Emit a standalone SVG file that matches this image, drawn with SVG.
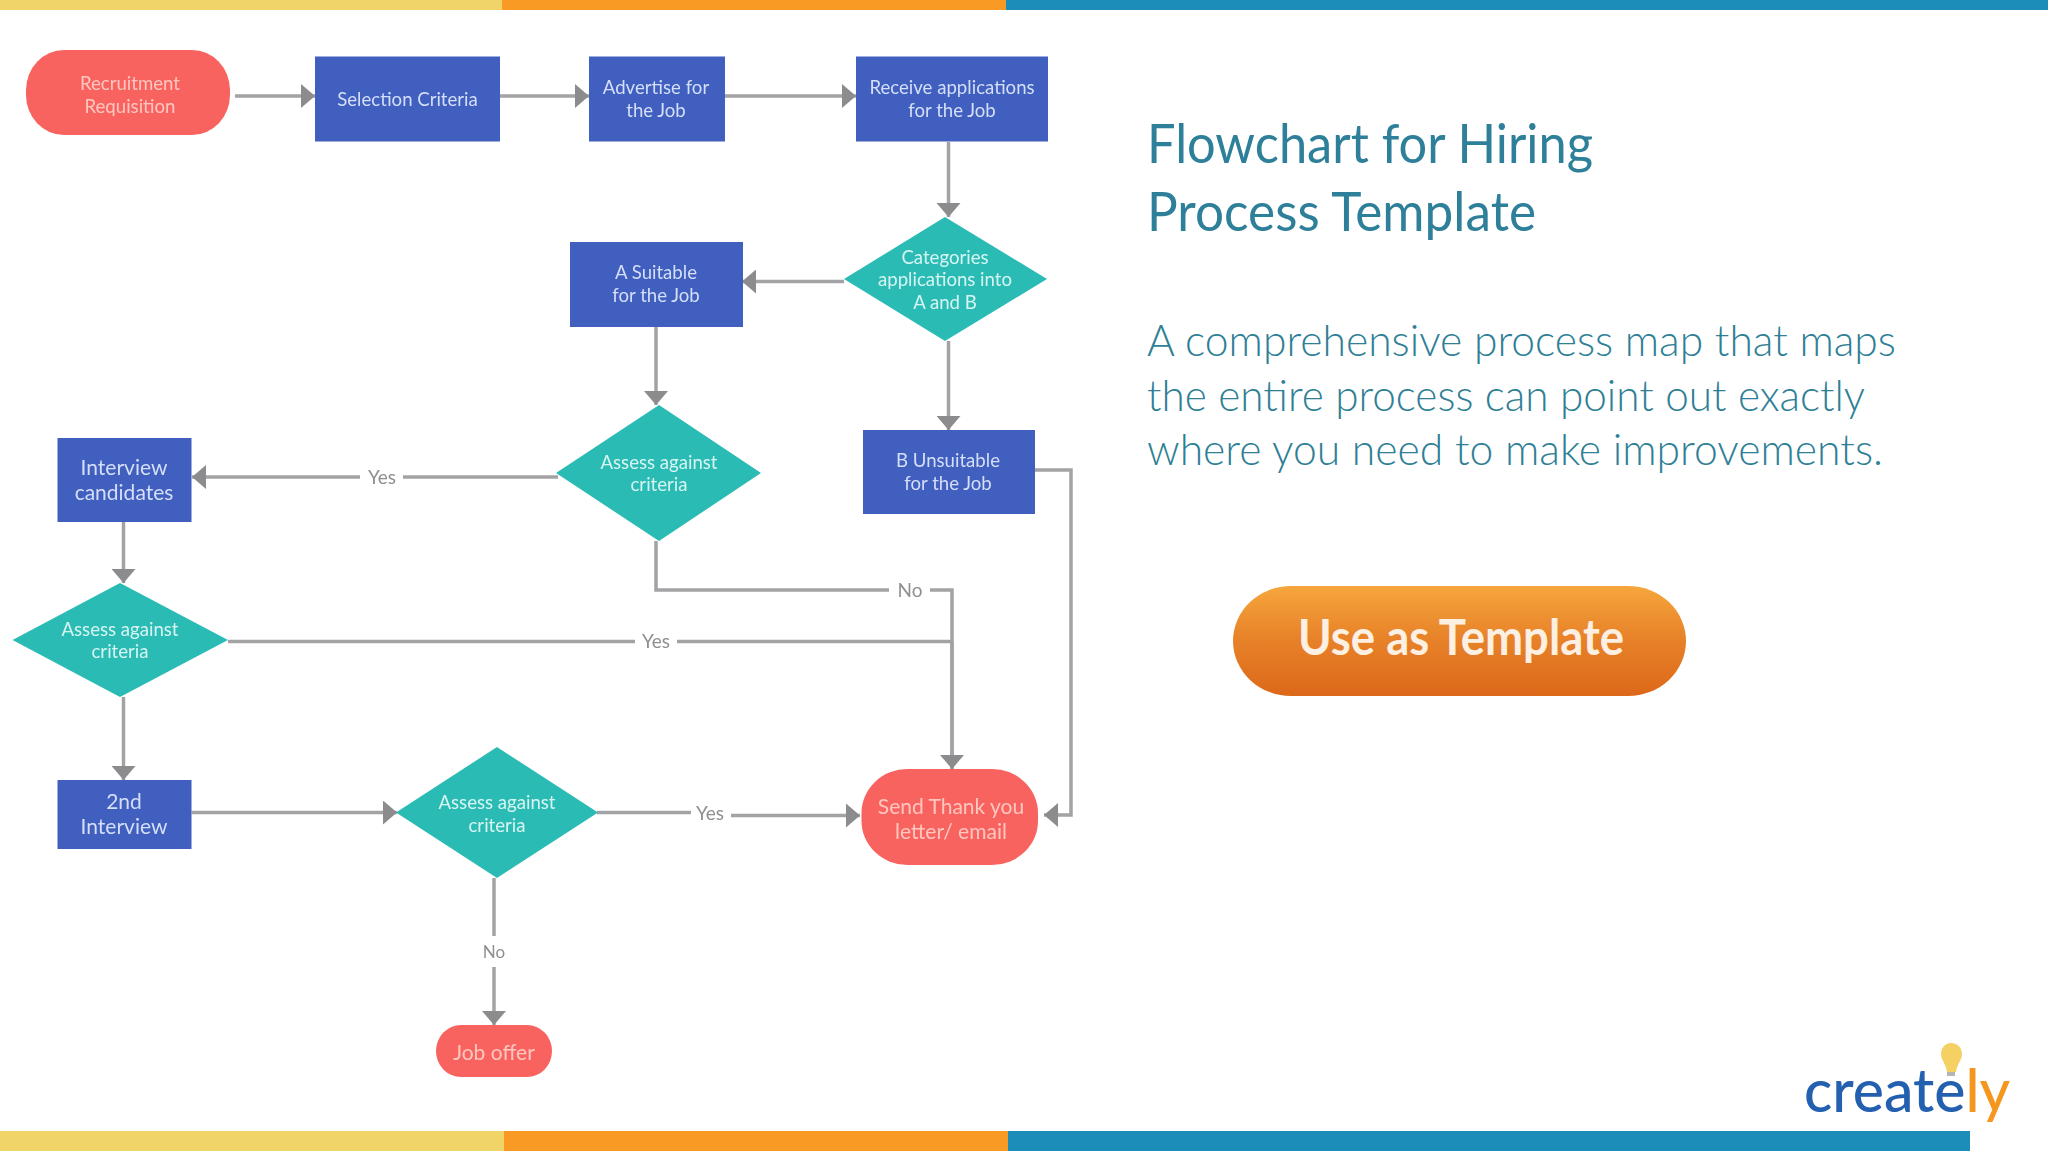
<svg xmlns="http://www.w3.org/2000/svg" width="2048" height="1152" viewBox="0 0 2048 1152">
<style>
.box{fill:#3f5fbe}.dia{fill:#2cbcb4}.term{fill:#f8635f}
.t{font-family:"Lato","Liberation Sans",sans-serif;font-size:18.600px;text-anchor:middle}
.tb{fill:#d6dff9}.td{fill:#d6f5f2}.tr{fill:#ffc6c0}.big{font-size:21px}
.c{fill:none;stroke:#a3a3a5;stroke-width:3.5}
.h{marker-end:url(#ah)}
.lb{font-family:"Lato","Liberation Sans",sans-serif;font-size:19px;text-anchor:middle;fill:#8f8f91}
.title{font-family:"Lato","Liberation Sans",sans-serif;font-size:54px;fill:#2e7f99}
.body{font-family:"Lato","Liberation Sans",sans-serif;font-size:43px;fill:#2f7f96;font-weight:300}
</style>
<defs>
<marker id="ah" markerUnits="userSpaceOnUse" markerWidth="15" markerHeight="24" refX="14" refY="12" orient="auto" viewBox="0 0 15 24"><path d="M0 0L14 12L0 24Z" fill="#8c8c8e"/></marker>
<linearGradient id="btn" x1="0" y1="0" x2="0" y2="1"><stop offset="0" stop-color="#f6a63c"/><stop offset=".45" stop-color="#e8842a"/><stop offset="1" stop-color="#dc6819"/></linearGradient>
<filter id="soft" x="-2%" y="-2%" width="104%" height="104%"><feGaussianBlur stdDeviation="0.7"/></filter>
</defs>
<rect width="2048" height="1152" fill="#fff"/>
<g id="bars">
<rect x="0" y="0" width="502" height="10" fill="#f0d468"/><rect x="502" y="0" width="504" height="10" fill="#f99a25"/><rect x="1006" y="0" width="1042" height="10" fill="#1b8db8"/>
<rect x="0" y="1131" width="504" height="20" fill="#f0d468"/><rect x="504" y="1131" width="504" height="20" fill="#f99a25"/><rect x="1008" y="1131" width="962" height="20" fill="#1b8db8"/>
</g>
<g filter="url(#soft)">
<g id="connectors">
<path class="c h" d="M235 96H315"/>
<path class="c h" d="M500 96H589"/>
<path class="c h" d="M725 96H856"/>
<path class="c h" d="M948.5 142V217"/>
<path class="c h" d="M844 281.500H742"/>
<path class="c h" d="M656 327V405"/>
<path class="c h" d="M948.500 341V430"/>
<path class="c" d="M558 477H403"/><path class="c h" d="M360 477H192"/>
<path class="c h" d="M1035 470H1071V815H1044"/>
<path class="c h" d="M123.500 522V583"/>
<path class="c" d="M656 541V590H889"/><path class="c" d="M930 590H952V770"/>
<path class="c" d="M228 641.500H635"/><path class="c" d="M677 641.500H952"/>
<path class="c h" d="M952 641.500V769"/>
<path class="c h" d="M123.500 697V780"/>
<path class="c h" d="M191.500 812.500H397"/>
<path class="c" d="M597 812.500H691"/><path class="c h" d="M731 815.500H860"/>
<path class="c" d="M494 878V936"/><path class="c h" d="M494 967V1025"/>
<text class="lb" x="382" y="484">Yes</text>
<text class="lb" x="910" y="597">No</text>
<text class="lb" x="656" y="648">Yes</text>
<text class="lb" x="710" y="820">Yes</text>
<text class="lb" x="494" y="958" style="font-size:17px">No</text>
</g>
<g id="recruitment"><rect class="term" x="26" y="50" width="204" height="85" rx="38" ry="40"/><text class="t tr" x="130" y="90">Recruitment</text><text class="t tr" x="130" y="113">Requisition</text></g>
<g id="selection"><rect class="box" x="315" y="56.500" width="185" height="85"/><text class="t tb" x="407.500" y="105.500">Selection Criteria</text></g>
<g id="advertise"><rect class="box" x="589" y="56.500" width="136" height="85"/><text class="t tb" x="656" y="93.500">Advertise for</text><text class="t tb" x="656" y="116.500">the Job</text></g>
<g id="receive"><rect class="box" x="856" y="56.500" width="192" height="85"/><text class="t tb" x="952" y="93.500">Receive applications</text><text class="t tb" x="952" y="116.500">for the Job</text></g>
<g id="categories"><path class="dia" d="M945 217L1047 279L945 341L844 279Z"/><text class="t td" x="945" y="263.500">Categories</text><text class="t td" x="945" y="286">applications into</text><text class="t td" x="945" y="308.500">A and B</text></g>
<g id="suitable"><rect class="box" x="570" y="242" width="173" height="85"/><text class="t tb" x="656" y="279">A Suitable</text><text class="t tb" x="656" y="302">for the Job</text></g>
<g id="assess1"><path class="dia" d="M659 405L761 473L659 541L556 473Z"/><text class="t td" x="659" y="468.500">Assess against</text><text class="t td" x="659" y="491">criteria</text></g>
<g id="unsuitable"><rect class="box" x="863" y="430" width="172" height="84"/><text class="t tb" x="948" y="467">B Unsuitable</text><text class="t tb" x="948" y="490">for the Job</text></g>
<g id="interview"><rect class="box" x="57.500" y="438" width="134" height="84"/><text class="t tb big" x="124" y="475">Interview</text><text class="t tb big" x="124" y="500">candidates</text></g>
<g id="assess2"><path class="dia" d="M120 583L228 640L120 697L12.500 640Z"/><text class="t td" x="120" y="635.500">Assess against</text><text class="t td" x="120" y="658">criteria</text></g>
<g id="second"><rect class="box" x="57.500" y="780" width="134" height="69"/><text class="t tb big" x="124" y="809">2nd</text><text class="t tb big" x="124" y="834">Interview</text></g>
<g id="assess3"><path class="dia" d="M497 747L598 812.500L497 878L396 812.500Z"/><text class="t td" x="497" y="809">Assess against</text><text class="t td" x="497" y="832">criteria</text></g>
<g id="send"><rect class="term" x="861.500" y="769" width="176.500" height="96" rx="46" ry="44"/><text class="t tr big" x="951" y="814">Send Thank you</text><text class="t tr big" x="951" y="839">letter/ email</text></g>
<g id="joboffer"><rect class="term" x="436" y="1025" width="116" height="52" rx="25" ry="26"/><text class="t tr big" x="494" y="1060">Job offer</text></g>
</g>
<g id="heading">
<text class="title" x="1147" y="162.500" textLength="446" lengthAdjust="spacingAndGlyphs">Flowchart for Hiring</text>
<text class="title" x="1147" y="231" textLength="389" lengthAdjust="spacingAndGlyphs">Process Template</text>
</g>
<g id="description">
<text class="body" x="1147" y="356" textLength="749" lengthAdjust="spacingAndGlyphs">A comprehensive process map that maps</text>
<text class="body" x="1147" y="411" textLength="718" lengthAdjust="spacingAndGlyphs">the entire process can point out exactly</text>
<text class="body" x="1147" y="465" textLength="736" lengthAdjust="spacingAndGlyphs">where you need to make improvements.</text>
</g>
<g id="button">
<rect x="1233" y="586" width="453" height="110" rx="58" ry="55" fill="url(#btn)"/>
<text x="1298" y="655" font-family="Lato,'Liberation Sans',sans-serif" font-weight="700" font-size="49" fill="#fdf0e2" textLength="326" lengthAdjust="spacingAndGlyphs">Use as Template</text>
</g>
<g id="logo">
<path d="M1951 1043c7 0 11 5 11 11c0 6-5 10-6 18h-9c-1-8-6-12-6-18c0-6 4-11 10-11Z" fill="#f5d163"/>
<rect x="1947" y="1072" width="8" height="4" fill="#b5b5b0"/>
<text x="1804" y="1112" font-family="Lato,'Liberation Sans',sans-serif" font-size="59" font-weight="500" fill="#2460b0">create<tspan fill="#f5961e">ly</tspan></text>
</g>
</svg>
